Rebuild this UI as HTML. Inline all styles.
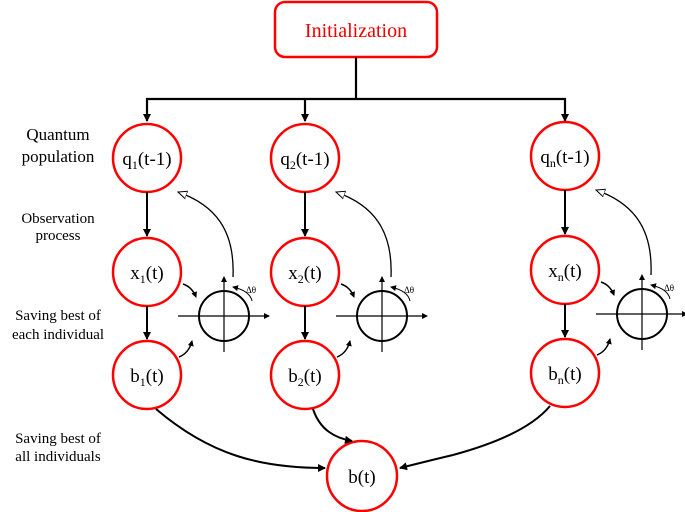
<!DOCTYPE html>
<html><head><meta charset="utf-8"><style>
html,body{margin:0;padding:0;background:#fff;}
svg{display:block;}
text{font-family:"Liberation Serif",serif;}
</style></head><body>
<svg width="685" height="512" viewBox="0 0 685 512" xmlns="http://www.w3.org/2000/svg">
<defs>
<marker id="a" markerWidth="8" markerHeight="8" refX="7" refY="4" orient="auto" markerUnits="userSpaceOnUse"><path d="M0,0 L8,4 L0,8 z" fill="#000"/></marker>
<marker id="o" markerWidth="10" markerHeight="10" refX="9" refY="5" orient="auto" markerUnits="userSpaceOnUse"><path d="M0,1 L9,5 L0,9 z" fill="#fff" stroke="#000" stroke-width="1"/></marker>
<marker id="s" markerWidth="6" markerHeight="6" refX="5" refY="3" orient="auto" markerUnits="userSpaceOnUse"><path d="M0,0 L6,3 L0,6 z" fill="#000"/></marker>
</defs>
<rect x="275" y="2" width="162" height="55" rx="10" fill="#fff" stroke="#f00" stroke-width="2.5"/>
<text x="356" y="37" font-size="20" fill="#e00" text-anchor="middle">Initialization</text>
<g stroke="#000" stroke-width="2.2" fill="none">
<line x1="356" y1="57" x2="356" y2="99"/>
<line x1="146" y1="99" x2="566" y2="99"/>
<line x1="147" y1="98" x2="147" y2="121" marker-end="url(#a)"/>
<line x1="305" y1="98" x2="305" y2="121" marker-end="url(#a)"/>
<line x1="565" y1="98" x2="565" y2="121" marker-end="url(#a)"/>
</g>
<g font-size="17" text-anchor="middle" fill="#000">
<text x="58" y="140">Quantum</text>
<text x="58" y="162">population</text>
<text x="58" y="223" font-size="15">Observation</text>
<text x="58" y="240" font-size="15">process</text>
<text x="58" y="320" font-size="15">Saving best of</text>
<text x="58" y="339" font-size="15">each individual</text>
<text x="58" y="443" font-size="15">Saving best of</text>
<text x="58" y="461" font-size="15">all individuals</text>
</g>
<!-- columns -->
<g id="c1">
<g stroke="#f00" stroke-width="2.5" fill="#fff">
<circle cx="147" cy="158" r="34"/><circle cx="147" cy="272" r="34"/><circle cx="147" cy="375" r="34"/>
</g>
<g stroke="#000" stroke-width="2" fill="none">
<line x1="147" y1="192" x2="147" y2="236" marker-end="url(#a)"/>
<line x1="147" y1="306" x2="147" y2="339" marker-end="url(#a)"/>
<circle cx="224" cy="316" r="25"/>
<line x1="178" y1="316" x2="269" y2="316" stroke-width="1.2" marker-end="url(#s)"/>
<line x1="224" y1="352" x2="224" y2="277" stroke-width="1.2" marker-end="url(#s)"/>
<path d="M233,277 C235,230 215,205 178,192" stroke-width="1.3" marker-end="url(#o)"/>
<path d="M183,284 Q192,287 196,297" stroke-width="1.5" marker-end="url(#s)"/>
<path d="M179,357 Q189,353 192,341" stroke-width="1.5" marker-end="url(#s)"/>
<path d="M252,301 Q250,291 233,287" stroke-width="1" marker-end="url(#s)"/>
</g>
<text x="246" y="293" font-size="9">Δθ</text>
</g>
<g font-size="19" text-anchor="middle">
<text x="147" y="165">q<tspan font-size="12" dy="4">1</tspan><tspan dy="-4">(t-1)</tspan></text>
<text x="147" y="279">x<tspan font-size="12" dy="4">1</tspan><tspan dy="-4">(t)</tspan></text>
<text x="147" y="382">b<tspan font-size="12" dy="4">1</tspan><tspan dy="-4">(t)</tspan></text>
</g>
<use href="#c1" transform="translate(158,0)"/>
<use href="#c1" transform="translate(418,-2)"/>
<g font-size="19" text-anchor="middle">
<text x="305" y="165">q<tspan font-size="12" dy="4">2</tspan><tspan dy="-4">(t-1)</tspan></text>
<text x="305" y="279">x<tspan font-size="12" dy="4">2</tspan><tspan dy="-4">(t)</tspan></text>
<text x="305" y="382">b<tspan font-size="12" dy="4">2</tspan><tspan dy="-4">(t)</tspan></text>
<text x="565" y="163">q<tspan font-size="12" dy="4">n</tspan><tspan dy="-4">(t-1)</tspan></text>
<text x="565" y="277">x<tspan font-size="12" dy="4">n</tspan><tspan dy="-4">(t)</tspan></text>
<text x="565" y="380">b<tspan font-size="12" dy="4">n</tspan><tspan dy="-4">(t)</tspan></text>
</g>
<circle cx="362" cy="476" r="35" fill="#fff" stroke="#f00" stroke-width="2.5"/>
<text x="362" y="483" font-size="19" text-anchor="middle">b(t)</text>
<g stroke="#000" stroke-width="2" fill="none">
<path d="M156,409 C210,455 260,468 325,468" marker-end="url(#a)"/>
<path d="M313,409 C320,430 335,438 352,441" marker-end="url(#a)"/>
<path d="M453,455 C440,458 420,463 400,468" marker-end="url(#a)"/>
<path d="M550,406 C530,430 490,445 453,455"/>
</g>
</svg>
</body></html>
